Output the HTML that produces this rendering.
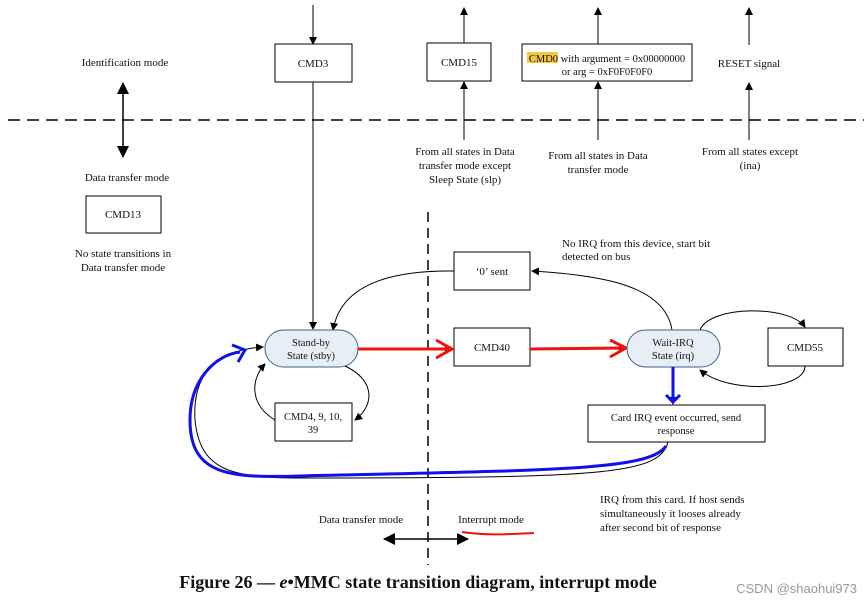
<!DOCTYPE html>
<html><head><meta charset="utf-8"><style>
html,body{margin:0;padding:0;background:#fff;}
svg{display:block;font-family:"Liberation Serif",serif;}
text{font-size:11px;fill:#111;}
</style></head><body>
<svg width="864" height="603" viewBox="0 0 864 603" xmlns="http://www.w3.org/2000/svg">
<defs>
<marker id="a" markerWidth="8" markerHeight="8" refX="7" refY="4" orient="auto" markerUnits="userSpaceOnUse"><path d="M0,0 L8,4 L0,8 z" fill="#000"/></marker>
<marker id="ab" markerWidth="12" markerHeight="12" refX="11" refY="6" orient="auto-start-reverse" markerUnits="userSpaceOnUse"><path d="M0,0 L12,6 L0,12 z" fill="#000"/></marker>
</defs>
<line x1="8" y1="120" x2="864" y2="120" stroke="#000" stroke-width="1.5" stroke-dasharray="12,7"/>
<line x1="428" y1="212" x2="428" y2="565" stroke="#000" stroke-width="1.5" stroke-dasharray="10,6"/>
<line x1="123" y1="83" x2="123" y2="157" stroke="#000" stroke-width="1.5" marker-start="url(#ab)" marker-end="url(#ab)"/>
<text x="125" y="66" text-anchor="middle">Identification mode</text>
<text x="127" y="181" text-anchor="middle">Data transfer mode</text>
<rect x="86" y="196" width="75" height="37" fill="#fff" stroke="#000"/>
<text x="123" y="218" text-anchor="middle">CMD13</text>
<text x="123" y="257" text-anchor="middle">No state transitions in</text>
<text x="123" y="271" text-anchor="middle">Data transfer mode</text>
<line x1="313" y1="5" x2="313" y2="44" stroke="#000" marker-end="url(#a)"/>
<rect x="275" y="44" width="77" height="38" fill="#fff" stroke="#000"/>
<text x="313" y="67" text-anchor="middle">CMD3</text>
<line x1="313" y1="82" x2="313" y2="329" stroke="#000" marker-end="url(#a)"/>
<line x1="464" y1="43" x2="464" y2="8" stroke="#000" marker-end="url(#a)"/>
<rect x="427" y="43" width="64" height="38" fill="#fff" stroke="#000"/>
<text x="459" y="66" text-anchor="middle">CMD15</text>
<line x1="464" y1="140" x2="464" y2="82" stroke="#000" marker-end="url(#a)"/>
<text x="465" y="155" text-anchor="middle">From all states in Data</text>
<text x="465" y="169" text-anchor="middle">transfer mode except</text>
<text x="465" y="183" text-anchor="middle">Sleep State (slp)</text>
<line x1="598" y1="44" x2="598" y2="8" stroke="#000" marker-end="url(#a)"/>
<rect x="522" y="44" width="170" height="37" fill="#fff" stroke="#000"/>
<rect x="527" y="52" width="31" height="11" fill="#f5c842"/>
<text x="607" y="62" text-anchor="middle" style="font-size:10.5px">CMD0 with argument = 0x00000000</text>
<text x="607" y="75" text-anchor="middle" style="font-size:10.5px">or arg = 0xF0F0F0F0</text>
<line x1="598" y1="140" x2="598" y2="82" stroke="#000" marker-end="url(#a)"/>
<text x="598" y="159" text-anchor="middle">From all states in Data</text>
<text x="598" y="173" text-anchor="middle">transfer mode</text>
<line x1="749" y1="45" x2="749" y2="8" stroke="#000" marker-end="url(#a)"/>
<text x="749" y="67" text-anchor="middle">RESET signal</text>
<line x1="749" y1="140" x2="749" y2="83" stroke="#000" marker-end="url(#a)"/>
<text x="750" y="155" text-anchor="middle">From all states except</text>
<text x="750" y="169" text-anchor="middle">(ina)</text>
<text x="562" y="247">No IRQ from this device, start bit</text>
<text x="562" y="260">detected on bus</text>
<rect x="454" y="252" width="76" height="38" fill="#fff" stroke="#000"/>
<text x="492" y="275" text-anchor="middle">‘0’ sent</text>
<path d="M672,330 C665,285 600,275 532,271" fill="none" stroke="#000" marker-end="url(#a)"/>
<path d="M454,271 C380,270 340,290 333,330" fill="none" stroke="#000" marker-end="url(#a)"/>
<rect x="265" y="330" width="93" height="37" rx="18.5" fill="#e8eef6" stroke="#41608a"/>
<text x="311" y="346" text-anchor="middle" style="font-size:10.5px">Stand-by</text>
<text x="311" y="359" text-anchor="middle" style="font-size:10.5px">State (stby)</text>
<rect x="275" y="403" width="77" height="38" fill="#fff" stroke="#000"/>
<text x="313" y="420" text-anchor="middle" style="font-size:10.5px">CMD4, 9, 10,</text>
<text x="313" y="433" text-anchor="middle" style="font-size:10.5px">39</text>
<path d="M345,366 C375,380 375,405 355,420" fill="none" stroke="#000" marker-end="url(#a)"/>
<path d="M275,420 C250,405 250,380 265,364" fill="none" stroke="#000" marker-end="url(#a)"/>
<rect x="454" y="328" width="76" height="38" fill="#fff" stroke="#000"/>
<text x="492" y="351" text-anchor="middle">CMD40</text>
<line x1="358" y1="348" x2="452" y2="348" stroke="#000" marker-end="url(#a)"/>
<line x1="530" y1="348" x2="626" y2="348" stroke="#000" marker-end="url(#a)"/>
<path d="M358,349 L450,349 M436,340 L452,349 L436,358" fill="none" stroke="#f01010" stroke-width="3"/>
<path d="M530,349 L624,348 M610,340 L626,348 L610,357" fill="none" stroke="#f01010" stroke-width="3"/>
<rect x="627" y="330" width="93" height="37" rx="18.5" fill="#e8eef6" stroke="#41608a"/>
<text x="673" y="346" text-anchor="middle" style="font-size:10.5px">Wait-IRQ</text>
<text x="673" y="359" text-anchor="middle" style="font-size:10.5px">State (irq)</text>
<rect x="768" y="328" width="75" height="38" fill="#fff" stroke="#000"/>
<text x="805" y="351" text-anchor="middle">CMD55</text>
<path d="M700,330 C710,305 790,305 805,327" fill="none" stroke="#000" marker-end="url(#a)"/>
<path d="M805,366 C805,390 730,395 700,370" fill="none" stroke="#000" marker-end="url(#a)"/>
<line x1="673" y1="367" x2="673" y2="404" stroke="#000" marker-end="url(#a)"/>
<path d="M673,367 L673,400 M666,395 L673,402 L680,395" fill="none" stroke="#1010ee" stroke-width="3"/>
<rect x="588" y="405" width="177" height="37" fill="#fff" stroke="#000"/>
<text x="676" y="421" text-anchor="middle" style="font-size:10.5px">Card IRQ event occurred, send</text>
<text x="676" y="434" text-anchor="middle" style="font-size:10.5px">response</text>
<path d="M668,442 C660,475 600,478 300,478 C230,478 200,470 195,420 C192,370 220,350 263,347" fill="none" stroke="#000" marker-end="url(#a)"/>
<path d="M666,446 C650,470 560,470 300,476 C230,478 190,476 190,420 C190,380 215,355 240,352 M232,345 L245,350 L238,362" fill="none" stroke="#1010ee" stroke-width="3"/>
<text x="600" y="503">IRQ from this card. If host sends</text>
<text x="600" y="517">simultaneously it looses already</text>
<text x="600" y="531">after second bit of response</text>
<text x="361" y="523" text-anchor="middle">Data transfer mode</text>
<text x="491" y="523" text-anchor="middle">Interrupt mode</text>
<path d="M462,532 C490,536 510,534 534,533" fill="none" stroke="#f01010" stroke-width="2"/>
<line x1="384" y1="539" x2="468" y2="539" stroke="#000" stroke-width="1.5" marker-start="url(#ab)" marker-end="url(#ab)"/>
<text x="418" y="588" text-anchor="middle" style="font-size:18px;font-weight:bold">Figure 26 — <tspan font-style="italic">e</tspan>•MMC state transition diagram, interrupt mode</text>
<text x="857" y="593" text-anchor="end" style="font-size:13px;fill:#999;font-family:'Liberation Sans',sans-serif">CSDN @shaohui973</text>
</svg>
</body></html>
